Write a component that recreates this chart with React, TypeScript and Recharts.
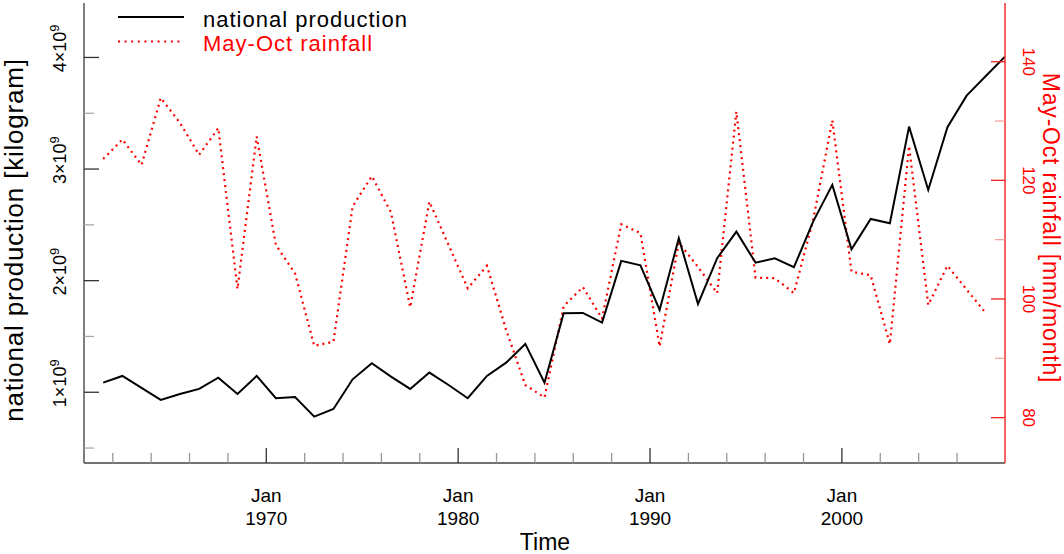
import { LineChart, Line, XAxis, YAxis } from 'recharts';

// calendar years of the observations (points sit at mid-year)
const YEARS = [
    1961, 1962, 1963, 1964, 1965, 1966, 1967, 1968, 1969, 1970,
    1971, 1972, 1973, 1974, 1975, 1976, 1977, 1978, 1979, 1980,
    1981, 1982, 1983, 1984, 1985, 1986, 1987, 1988, 1989, 1990,
    1991, 1992, 1993, 1994, 1995, 1996, 1997, 1998, 1999, 2000,
    2001, 2002, 2003, 2004, 2005, 2006, 2007, 2008,
];

// national production [kilogram]
const PRODUCTION = [
    1.086e9, 1.146e9, 1.039e9, 0.931e9, 0.985e9, 1.030e9, 1.131e9, 0.985e9, 1.146e9, 0.946e9,
    0.958e9, 0.781e9, 0.850e9, 1.116e9, 1.260e9, 1.140e9, 1.030e9, 1.176e9, 1.065e9, 0.946e9,
    1.146e9, 1.265e9, 1.433e9, 1.086e9, 1.708e9, 1.711e9, 1.624e9, 2.177e9, 2.138e9, 1.737e9,
    2.380e9, 1.791e9, 2.201e9, 2.439e9, 2.161e9, 2.201e9, 2.120e9, 2.529e9, 2.858e9, 2.281e9,
    2.553e9, 2.514e9, 3.380e9, 2.813e9, 3.375e9, 3.658e9, 3.834e9, 4.007e9,
];

// May-Oct rainfall [mm/month], no value for the last year
const RAINFALL = [
    123.6, 126.9, 122.6, 133.9, 129.7, 124.3, 128.8, 101.7, 127.4, 109.1,
    104.3, 92.1, 92.8, 115.6, 120.7, 114.6, 98.6, 116.4, 109.1, 101.8,
    105.6, 94.8, 85.5, 83.4, 98.8, 102.0, 96.7, 112.6, 111.1, 92.0,
    109.5, 105.4, 101.0, 131.6, 103.6, 103.5, 101.0, 113.3, 130.1, 104.6,
    104.0, 92.4, 125.8, 99.0, 105.6, 101.6, 97.6,
];

const X_MAJOR = [1970, 1980, 1990, 2000];
const X_TICKS = [
    1962, 1964, 1966, 1968, 1970, 1972, 1974, 1976, 1978, 1980,
    1982, 1984, 1986, 1988, 1990, 1992, 1994, 1996, 1998, 2000,
    2002, 2004, 2006,
];
const LEFT_MAJOR = [1e9, 2e9, 3e9, 4e9];
const LEFT_TICKS = [0.5e9, 1e9, 1.5e9, 2e9, 2.5e9, 3e9, 3.5e9, 4e9];
const RIGHT_MAJOR = [80, 100, 120, 140];
const RIGHT_TICKS = [80, 90, 100, 110, 120, 130, 140];

const FONT = '"Liberation Sans", Arial, Helvetica, sans-serif';
const RED = '#ff0000';

const data = YEARS.map((yr, i) => ({
    t: yr + 0.5,
    production: PRODUCTION[i],
    rainfall: i < RAINFALL.length ? RAINFALL[i] : null,
}));

const BottomTick = ({ x, y, payload }: any) => {
    const major = X_MAJOR.includes(payload.value);
    return (
        <g>
            <line x1={x} x2={x} y1={y} y2={y - (major ? 15 : 10)} stroke={major ? '#333' : '#999'} strokeWidth={1.3} />
            {major && (
                <text x={x} textAnchor="middle" fontFamily={FONT} fontSize={19} fill="#000">
                    <tspan x={x} y={y + 38.5}>Jan</tspan>
                    <tspan x={x} y={y + 62}>{payload.value}</tspan>
                </text>
            )}
        </g>
    );
};

const LeftTick = ({ x, y, payload }: any) => {
    const major = LEFT_MAJOR.includes(payload.value);
    const lx = x - 18;
    const ly = y - 9;
    return (
        <g>
            <line x1={x} x2={x + (major ? 15 : 10)} y1={y} y2={y} stroke={major ? '#333' : '#aaa'} strokeWidth={1.3} />
            {major && (
                <text x={lx} y={ly} transform={`rotate(-90, ${lx}, ${ly})`} textAnchor="middle" fontFamily={FONT} fontSize={18} fill="#000">
                    {`${payload.value / 1e9}×10`}
                    <tspan dy={-7} fontSize={13}>9</tspan>
                </text>
            )}
        </g>
    );
};

const RightTick = ({ x, y, payload }: any) => {
    const major = RIGHT_MAJOR.includes(payload.value);
    const lx = x + 18;
    return (
        <g>
            <line x1={x} x2={x - (major ? 14 : 10)} y1={y} y2={y} stroke={major ? '#f02020' : '#f7a0a0'} strokeWidth={1.3} />
            {major && (
                <text x={lx} y={y} transform={`rotate(90, ${lx}, ${y})`} textAnchor="middle" fontFamily={FONT} fontSize={17} fill={RED}>
                    {payload.value}
                </text>
            )}
        </g>
    );
};

export default function App() {
    return (
        <div style={{ position: 'absolute', left: 0, top: 0, width: 1064, height: 554, background: '#fff' }}>
            <LineChart width={1064} height={554} data={data} margin={{ top: 3, right: 0, left: 0, bottom: 0 }}>
                <XAxis
                    dataKey="t"
                    type="number"
                    domain={[1960.5, 2008.5]}
                    allowDataOverflow
                    ticks={X_TICKS}
                    interval={0}
                    height={91}
                    tickSize={0}
                    tickMargin={0}
                    tickLine={false}
                    tick={<BottomTick />}
                    axisLine={{ stroke: '#444', strokeWidth: 1.5 }}
                />
                <YAxis
                    yAxisId="left"
                    orientation="left"
                    type="number"
                    domain={[0.366e9, 4.488e9]}
                    allowDataOverflow
                    ticks={LEFT_TICKS}
                    interval={0}
                    width={84}
                    tickSize={0}
                    tickMargin={0}
                    tickLine={false}
                    tick={<LeftTick />}
                    axisLine={{ stroke: '#555', strokeWidth: 1.5 }}
                />
                <YAxis
                    yAxisId="right"
                    orientation="right"
                    type="number"
                    domain={[72.35, 149.9]}
                    allowDataOverflow
                    ticks={RIGHT_TICKS}
                    interval={0}
                    width={59}
                    tickSize={0}
                    tickMargin={0}
                    tickLine={false}
                    tick={<RightTick />}
                    axisLine={{ stroke: '#f03030', strokeWidth: 1.5 }}
                />
                <Line
                    yAxisId="right"
                    dataKey="rainfall"
                    type="linear"
                    stroke={RED}
                    strokeWidth={2.2}
                    strokeDasharray="2 4"
                    dot={false}
                    activeDot={false}
                    isAnimationActive={false}
                />
                <Line
                    yAxisId="left"
                    dataKey="production"
                    type="linear"
                    stroke="#000"
                    strokeWidth={2}
                    dot={false}
                    activeDot={false}
                    isAnimationActive={false}
                />
            </LineChart>
            <svg width={1064} height={554} style={{ position: 'absolute', left: 0, top: 0, pointerEvents: 'none' }}>
                {/* legend */}
                <line x1={118} x2={184} y1={17} y2={17} stroke="#000" strokeWidth={2} />
                <line x1={118} x2={184} y1={41.5} y2={41.5} stroke={RED} strokeWidth={2.2} strokeDasharray="2 4.6" />
                <text x={203} y={26.5} fontFamily={FONT} fontSize={22} letterSpacing={1} fill="#000">national production</text>
                <text x={203} y={50.5} fontFamily={FONT} fontSize={22} letterSpacing={1} fill={RED}>May-Oct rainfall</text>
                {/* axis titles */}
                <text x={545} y={550} textAnchor="middle" fontFamily={FONT} fontSize={23} fill="#000">Time</text>
                <text x={23} y={240} transform="rotate(-90, 23, 240)" textAnchor="middle" fontFamily={FONT} fontSize={26} letterSpacing={0.8} fill="#000">
                    national production [kilogram]
                </text>
                <text x={1042.5} y={228} transform="rotate(90, 1042.5, 228)" textAnchor="middle" fontFamily={FONT} fontSize={23} letterSpacing={0.8} fill={RED}>
                    May-Oct rainfall [mm/month]
                </text>
            </svg>
        </div>
    );
}
